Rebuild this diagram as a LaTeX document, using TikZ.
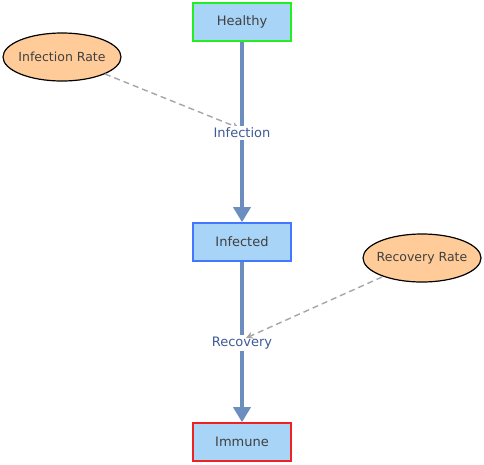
\documentclass[tikz,border=0pt]{standalone}
\usepackage{fontspec}
\setmainfont{DejaVu Sans}
\usetikzlibrary{shapes.geometric,arrows.meta}
\definecolor{boxfill}{HTML}{A8D4F7}
\definecolor{flowc}{HTML}{6C8EBF}
\definecolor{labc}{HTML}{3F5A96}
\definecolor{peach}{HTML}{FFCC99}
\definecolor{gborder}{HTML}{22EE22}
\definecolor{bborder}{HTML}{4477FF}
\definecolor{rborder}{HTML}{EE2222}
\tikzset{
  stock/.style={draw, line width=1.6pt, fill=boxfill, minimum width=98pt, minimum height=38pt, inner sep=0pt, font=\fontsize{13}{15}\selectfont, text=black!75},
  rate/.style={ellipse, draw=black, line width=1.2pt, fill=peach, minimum width=118pt, minimum height=48pt, inner xsep=-30pt, inner ysep=0pt, font=\fontsize{12.5}{15}\selectfont, text=black!75},
  flow/.style={draw=flowc, line width=3.5pt, -{Triangle[length=15pt,width=17pt]}},
  flowlab/.style={fill=white, text=labc, inner sep=1.5pt, font=\fontsize{13}{15}\selectfont},
  infl/.style={draw=black!35, line width=1.4pt, dash pattern=on 6pt off 4pt, -{Stealth[length=7pt,width=7pt]}}
}
\begin{document}
\begin{tikzpicture}[x=1pt,y=-1pt]
\useasboundingbox (0,0) rectangle (484,464);
\node[stock, draw=gborder] (healthy) at (242,22) {Healthy};
\node[stock, draw=bborder] (infected) at (242,242) {Infected};
\node[stock, draw=rborder] (immune) at (242,442) {Immune};
\node[rate] (irate) at (62,57) {Infection Rate};
\node[rate] (rrate) at (422,258) {Recovery Rate};
\draw[flow] (healthy.south) -- (infected.north);
\draw[flow] (infected.south) -- (immune.north);
\coordinate (itip) at (239,128);
\coordinate (rtip) at (246,338);
\draw[infl] (irate) ++(43,17) -- (itip);
\node[flowlab] (inflab) at (242,133) {Infection};
\node[flowlab] (reclab) at (242,343) {Recovery};
\draw[infl] (rrate) ++(-40,19) -- (rtip);
\end{tikzpicture}
\end{document}
